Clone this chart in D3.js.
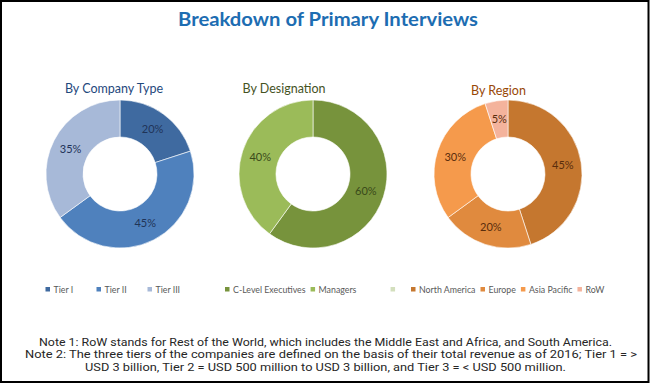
<!DOCTYPE html>
<html>
<head>
<meta charset="utf-8">
<script src="https://cdn.jsdelivr.net/npm/d3@7"></script>
<style>
  html, body { margin: 0; padding: 0; background: #fff; }
  svg { display: block; }
</style>
</head>
<body>
<svg id="chart" width="650" height="384"></svg>
<script>
// ---- Data ----
const chartTitle = "Breakdown of Primary Interviews";
const companyTypeLabels = ["Tier I", "Tier II", "Tier III"];
const companyTypeValues = [20, 45, 35];
const designationLabels = ["C-Level Executives", "Managers", ""];
const designationValues = [60, 40, 0];
const regionLabels = ["North America", "Europe", "Asia Pacific", "RoW"];
const regionValues = [45, 20, 30, 5];
const notes = [
  "Note 1: RoW stands for Rest of the World, which includes the Middle East and Africa, and South America.",
  "Note 2: The three tiers of the companies are defined on the basis of their total revenue as of 2016; Tier 1 = >",
  "USD 3 billion, Tier 2 = USD 500 million to USD 3 billion, and Tier 3 = < USD 500 million."
];

// ---- Styling / layout ----
const svg = d3.select("#chart");
const W = 650, H = 384;
const outerR = 74, innerR = 37;

const charts = [
  { title: "By Company Type", titleColor: "#1f497d", cx: 120, titleX: 114, titleY: 93,
    labels: companyTypeLabels, values: companyTypeValues,
    colors: ["#3f6aa0", "#4f81bd", "#a7b9d8"], labelColor: "#1f3458",
    legendX: 45.5, legendSlot: 51 },
  { title: "By Designation", titleColor: "#45531f", cx: 313, titleX: 284, titleY: 93,
    labels: designationLabels, values: designationValues,
    colors: ["#77933c", "#9bbb59", "#d3dfbd"], labelColor: "#3a4a1a",
    legendX: 225, legendSlot: 80 },
  { title: "By Region", titleColor: "#984807", cx: 508, titleX: 498.5, titleY: 95,
    labels: regionLabels, values: regionValues,
    colors: ["#c5772f", "#e08a3e", "#f59a4c", "#f4b39c"], labelColor: "#5a2d0c",
    legendX: 411, legendSlot: 0 }
];
const cy = 174;

// frame
svg.append("rect").attr("x", 1).attr("y", 1).attr("width", W - 2.5).attr("height", H - 3)
  .attr("fill", "#fff").attr("stroke", "#000").attr("stroke-width", 2);

// title
svg.append("text")
  .attr("x", 328).attr("y", 26)
  .attr("text-anchor", "middle")
  .attr("font-family", "Lato, 'Open Sans', sans-serif")
  .attr("font-weight", "bold")
  .attr("font-size", 18)
  .attr("fill", "#1d6db2")
  .attr("textLength", 300).attr("lengthAdjust", "spacingAndGlyphs")
  .text(chartTitle);

const pie = d3.pie().sort(null).value(d => d.value);
const arc = d3.arc().innerRadius(innerR).outerRadius(outerR);
const labelArc = d3.arc().innerRadius((innerR + outerR) / 2).outerRadius((innerR + outerR) / 2);

charts.forEach(c => {
  const data = c.labels.map((l, i) => ({ label: l, value: c.values[i] }));
  const color = d3.scaleOrdinal().domain(c.labels.map((l, i) => i)).range(c.colors);

  svg.append("text")
    .attr("x", c.titleX).attr("y", c.titleY)
    .attr("text-anchor", "middle")
    .attr("font-family", "Lato, 'Open Sans', sans-serif")
    .attr("font-size", 12.5)
    .attr("fill", c.titleColor)
    .text(c.title);

  const g = svg.append("g").attr("transform", `translate(${c.cx},${cy})`);
  const arcs = pie(data).filter(d => d.data.value > 0);
  g.selectAll("path").data(arcs).join("path")
    .attr("d", arc)
    .attr("fill", (d) => color(d.index))
    .attr("stroke", "#fff").attr("stroke-width", 0.6);

  g.selectAll("text").data(arcs).join("text")
    .attr("transform", d => `translate(${labelArc.centroid(d)})`)
    .attr("text-anchor", "middle")
    .attr("dy", "0.35em")
    .attr("font-family", "Lato, 'Open Sans', sans-serif")
    .attr("font-size", 11)
    .attr("fill", c.labelColor)
    .text(d => d.data.value + "%");

  // legend (flow layout)
  const lg = svg.append("g");
  let x = c.legendX;
  data.forEach((d, i) => {
    const item = lg.append("g").attr("transform", `translate(${x},0)`);
    item.append("rect").attr("x", 0).attr("y", 287).attr("width", 4.5).attr("height", 4.5)
      .attr("fill", color(i));
    const t = item.append("text").attr("x", 8).attr("y", 292.5)
      .attr("font-family", "Lato, 'Open Sans', sans-serif")
      .attr("font-size", 8.8)
      .attr("fill", "#595959")
      .text(d.label);
    const w = d.label ? t.node().getComputedTextLength() : 0;
    x += Math.max(8 + w + 5, c.legendSlot);
  });
});

// notes
const noteLayout = [[39, 345.5, 573], [25, 358, 612], [85, 370.5, 481]];
notes.forEach((n, i) => {
  svg.append("text")
    .attr("x", noteLayout[i][0]).attr("y", noteLayout[i][1])
    .attr("font-family", "Roboto, 'Liberation Sans', sans-serif")
    .attr("font-size", 10.5)
    .attr("fill", "#262626")
    .attr("textLength", noteLayout[i][2]).attr("lengthAdjust", "spacingAndGlyphs")
    .text(n);
});
</script>
</body>
</html>
